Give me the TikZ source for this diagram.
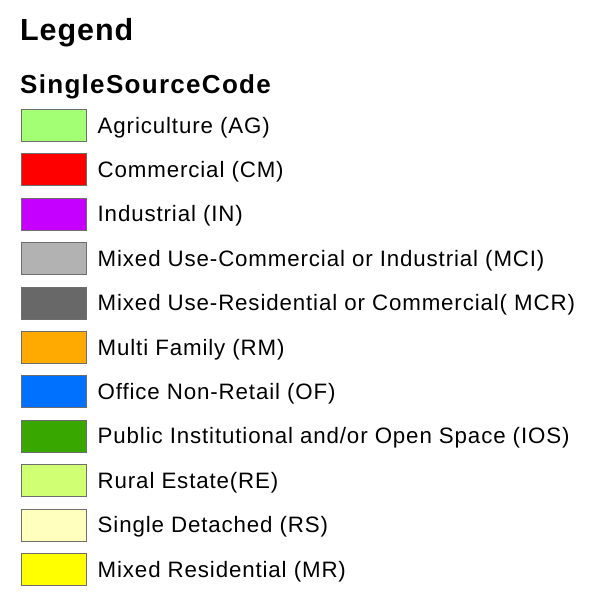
\documentclass[tikz,border=0pt]{standalone}
\usepackage{fontspec}
\setmainfont{Liberation Sans}
\usetikzlibrary{positioning}

% fill colours of the land use codes
\definecolor{agcol}{HTML}{A3FF73}
\definecolor{cmcol}{HTML}{FF0000}
\definecolor{incol}{HTML}{C500FF}
\definecolor{mcicol}{HTML}{B2B2B2}
\definecolor{mcrcol}{HTML}{686868}
\definecolor{rmcol}{HTML}{FFAA00}
\definecolor{ofcol}{HTML}{0070FF}
\definecolor{ioscol}{HTML}{38A800}
\definecolor{recol}{HTML}{D1FF73}
\definecolor{rscol}{HTML}{FFFFBE}
\definecolor{mrcol}{HTML}{FFFF00}
\definecolor{edgegray}{HTML}{6E6E6E}

\begin{document}
\begin{tikzpicture}[x=1pt, y=-1pt,
    swatch/.style={draw=edgegray, line width=1pt, inner sep=0pt,
        minimum width=65pt, minimum height=32pt},
    lbl/.style={inner sep=0pt,
        font=\fontsize{22.3}{24}\selectfont\addfontfeatures{LetterSpace=3.9},
        text height=18pt, text depth=3pt}]
    % Fix the page to the reference size
    \useasboundingbox (0,0) rectangle (600,600);

    % Spacing of the legend rows
    \def\rowgap{44.4}
    \def\rowtop{109}

    % Headings
    \node[anchor=base west, inner sep=0pt,
        font=\bfseries\fontsize{30.5}{32}\selectfont\addfontfeatures{LetterSpace=3}] (title) at (20,40) {Legend};
    \node[anchor=base west, inner sep=0pt,
        font=\bfseries\fontsize{26}{28}\selectfont\addfontfeatures{LetterSpace=5}] (field) at (20,93) {SingleSourceCode};

    % Colour swatches, one per row
    \node[swatch, fill=agcol, anchor=north west] (sw1) at (20.5,\rowtop) {};
    \node[swatch, fill=cmcol, anchor=north west] (sw2) at (20.5,\rowtop+\rowgap) {};
    \node[swatch, fill=incol, anchor=north west] (sw3) at (20.5,\rowtop+2*\rowgap) {};
    \node[swatch, fill=mcicol, anchor=north west] (sw4) at (20.5,\rowtop+3*\rowgap) {};
    \node[swatch, fill=mcrcol, anchor=north west] (sw5) at (20.5,\rowtop+4*\rowgap) {};
    \node[swatch, fill=rmcol, anchor=north west] (sw6) at (20.5,\rowtop+5*\rowgap) {};
    \node[swatch, fill=ofcol, anchor=north west] (sw7) at (20.5,\rowtop+6*\rowgap) {};
    \node[swatch, fill=ioscol, anchor=north west] (sw8) at (20.5,\rowtop+7*\rowgap) {};
    \node[swatch, fill=recol, anchor=north west] (sw9) at (20.5,\rowtop+8*\rowgap) {};
    \node[swatch, fill=rscol, anchor=north west] (sw10) at (20.5,\rowtop+9*\rowgap) {};
    \node[swatch, fill=mrcol, anchor=north west] (sw11) at (20.5,\rowtop+10*\rowgap) {};

    % Labels to the right of the swatches
    \node[lbl, right=11pt of sw1] (lab1) {Agriculture (AG)};
    \node[lbl, right=11pt of sw2] (lab2) {Commercial (CM)};
    \node[lbl, right=11pt of sw3] (lab3) {Industrial (IN)};
    \node[lbl, right=11pt of sw4] (lab4) {Mixed Use-Commercial or Industrial (MCI)};
    \node[lbl, right=11pt of sw5] (lab5) {Mixed Use-Residential or Commercial( MCR)};
    \node[lbl, right=11pt of sw6] (lab6) {Multi Family (RM)};
    \node[lbl, right=11pt of sw7] (lab7) {Office Non-Retail (OF)};
    \node[lbl, right=11pt of sw8] (lab8) {Public Institutional and/or Open Space (IOS)};
    \node[lbl, right=11pt of sw9] (lab9) {Rural Estate(RE)};
    \node[lbl, right=11pt of sw10] (lab10) {Single Detached (RS)};
    \node[lbl, right=11pt of sw11] (lab11) {Mixed Residential (MR)};

\end{tikzpicture}
\end{document}
